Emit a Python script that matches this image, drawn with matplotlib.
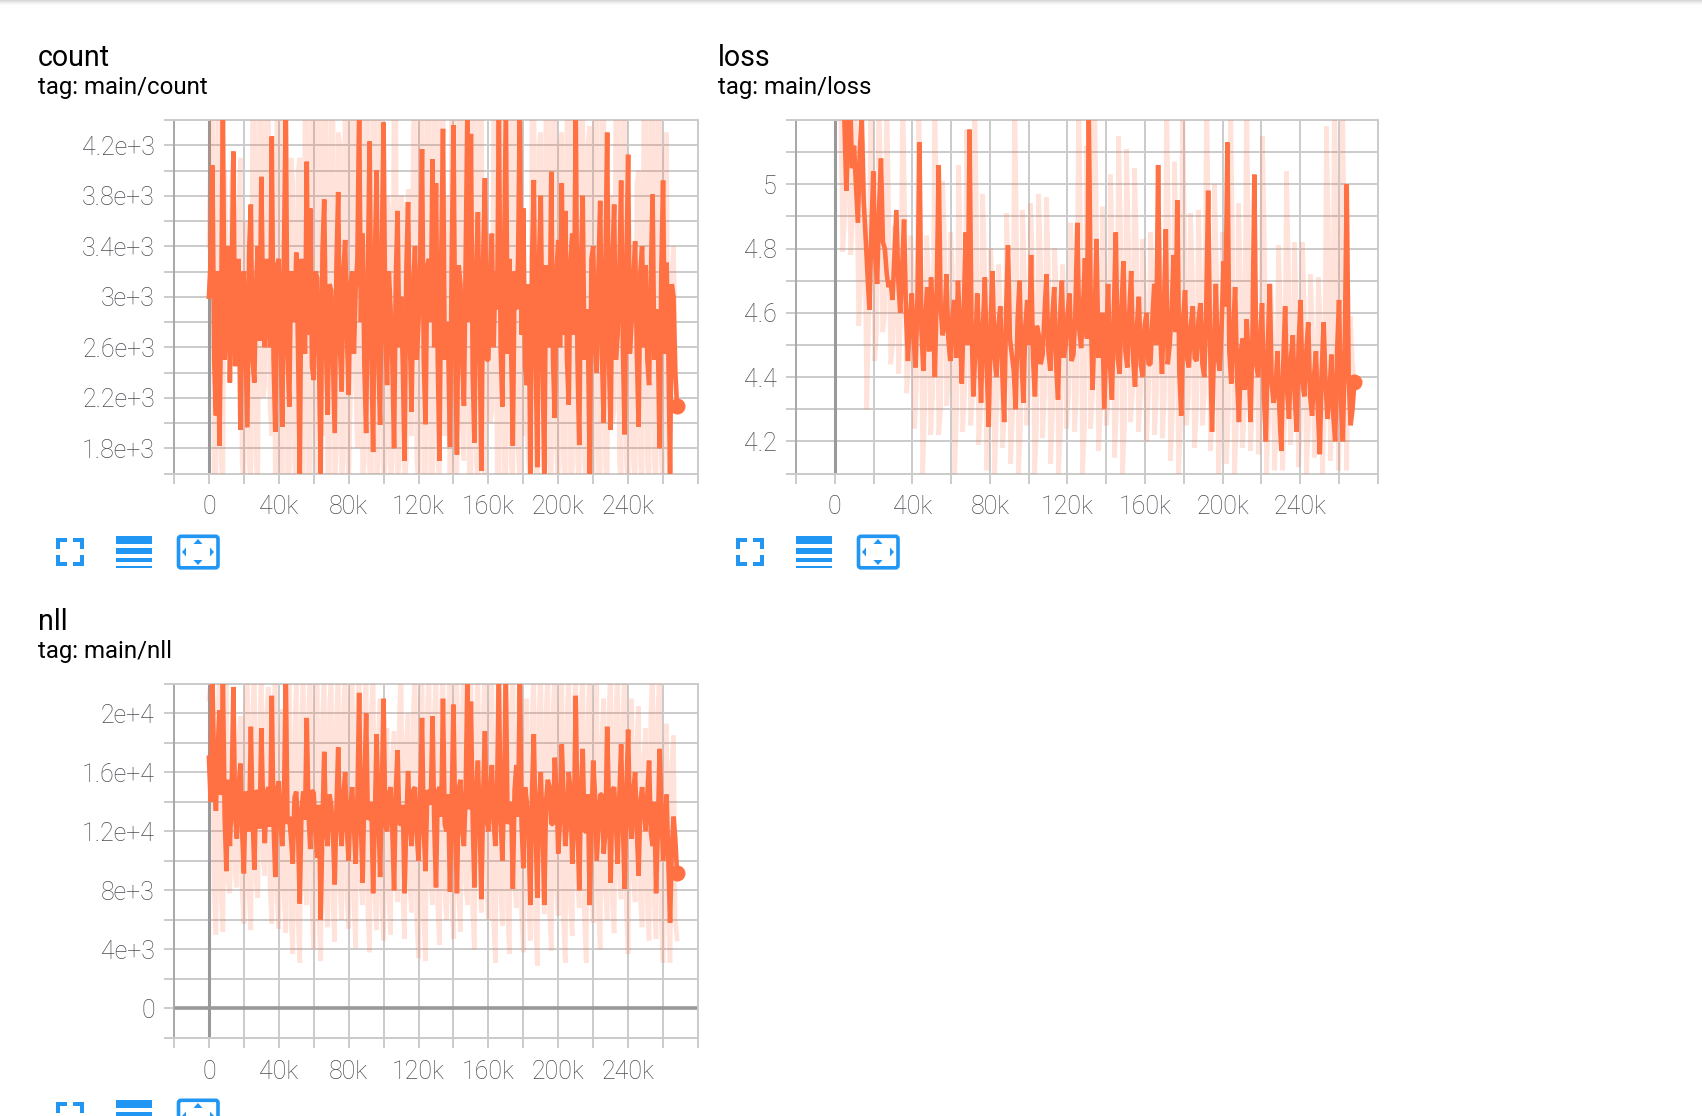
import matplotlib
matplotlib.use("Agg")
import matplotlib.pyplot as plt
import numpy as np
from matplotlib.patches import Rectangle, Polygon, FancyBboxPatch

W, H = 1702, 1116
ORANGE = "#ff7043"
BLUE = "#2196f3"
GRID = "#cbcbcb"
LABEL = "#4a4a52"

last_step = 268000

# smoothed and raw values
# *_line holds the spikes every second step, *_mid the steps in between
count_line = [3000, 4040, 2060, 1820, 4500, 3150, 2320, 4150, 3000, 1945,
              3200, 1965, 3730, 2320, 3400, 3950, 2600, 3100, 4270, 1930,
              3300, 1970, 4500, 2130, 2900, 3350, 1600, 2900, 4070, 3700,
              2340, 3150, 1600, 3770, 2065, 3050, 1920, 3830, 2250, 3450,
              2225, 3200, 3050, 4500, 3500, 1920, 4230, 1770, 4000, 1985,
              4380, 2300, 2900, 1800, 3680, 3000, 1700, 3750, 2090, 3400,
              2800, 4170, 1990, 3300, 4090, 3900, 1700, 4330, 2800, 1810,
              4360, 1750, 3100, 2135, 4500, 4290, 1845, 3670, 1620, 3940,
              2500, 3500, 3200, 4500, 2130, 4500, 3300, 1820, 2900, 4500,
              3700, 2300, 1600, 3925, 1650, 3800, 1600, 3000, 3990, 2040,
              3450, 3900, 3680, 2145, 3500, 4500, 1825, 3800, 2900, 1600,
              3400, 2400, 3760, 2000, 4300, 1945, 3730, 2700, 3920, 1910,
              4125, 2800, 3440, 1970, 3400, 3250, 2300, 3810, 2900, 1800,
              3920, 3270, 1600, 3000, 2135]
count_mid = [3300, 2500, 3200, 2900, 2500, 3400, 3100, 2450, 3300, 2900,
             2600, 3350, 2500, 3100, 2650, 2900, 3300, 2600, 2500, 3250,
             2700, 3400, 2550, 3200, 2800, 2600, 3300, 2550, 2700, 2450,
             3200, 2500, 3350, 2600, 3100, 2500, 3250, 2600, 3200, 2700,
             3100, 2550, 3300, 2800, 2450, 3200, 2600, 3300, 2500, 3400,
             2700, 3200, 2500, 3150, 2600, 2450, 3200, 2700, 3100, 2500,
             3300, 2500, 3250, 2800, 2600, 2500, 3300, 2500, 2600, 3300,
             2600, 3250, 2500, 3350, 2800, 2400, 3200, 2600, 3300, 2500,
             3200, 2600, 2900, 2600, 3300, 2550, 2600, 3200, 3300, 2700,
             2450, 3100, 3300, 2600, 3300, 2500, 3250, 2600, 2500, 3200,
             2600, 2700, 2500, 3300, 2700, 2500, 3250, 2500, 2700, 3300,
             2600, 3200, 2550, 3250, 2500, 3300, 2500, 3200, 2600, 3250,
             2550, 3150, 2550, 3200, 2600, 2500, 3150, 2500, 2700, 3200,
             2550, 2600, 3100, 2400]

loss_line = [6.0, 5.7, 5.3, 4.98, 5.25, 5.12, 4.88, 5.22, 4.84, 4.61,
             5.04, 4.69, 5.08, 4.80, 4.68, 4.64, 4.92, 4.60, 4.89, 4.45,
             4.66, 4.43, 5.13, 4.42, 4.68, 4.71, 4.40, 5.06, 4.53, 4.72,
             4.45, 4.64, 4.70, 4.38, 4.85, 5.17, 4.34, 4.66, 4.32, 4.71,
             4.245, 4.73, 4.40, 4.62, 4.26, 4.81, 4.47, 4.30, 4.70, 4.32,
             4.64, 4.78, 4.34, 4.53, 4.47, 4.72, 4.42, 4.68, 4.33, 4.70,
             4.50, 4.66, 4.47, 4.88, 4.49, 4.77, 5.25, 4.36, 4.83, 4.50,
             4.30, 4.69, 4.33, 4.85, 4.41, 4.76, 4.43, 4.73, 4.37, 4.65,
             4.40, 4.60, 4.44, 4.69, 5.06, 4.41, 4.86, 4.50, 4.78, 4.95,
             4.28, 4.67, 4.43, 4.62, 4.45, 4.63, 4.40, 4.98, 4.23, 4.69,
             4.42, 4.76, 5.13, 4.38, 4.68, 4.26, 4.52, 4.58, 4.26, 5.03,
             4.40, 4.63, 4.20, 4.69, 4.32, 4.48, 4.17, 4.62, 4.27, 4.53,
             4.23, 4.64, 4.34, 4.57, 4.28, 4.48, 4.16, 4.57, 4.27, 4.47,
             4.20, 4.64, 4.20, 5.0, 4.25, 4.385]
loss_mid = [5.9, 5.5, 5.2, 5.15, 5.05, 5.0, 5.1, 4.95, 4.72, 4.85,
            4.78, 4.92, 4.82, 4.72, 4.70, 4.78, 4.70, 4.74, 4.60, 4.58,
            4.52, 4.66, 4.55, 4.58, 4.48, 4.60, 4.68, 4.62, 4.56, 4.52,
            4.58, 4.46, 4.56, 4.60, 4.50, 4.58, 4.48, 4.52, 4.56, 4.42,
            4.58, 4.46, 4.56, 4.42, 4.60, 4.52, 4.42, 4.58, 4.46, 4.56,
            4.50, 4.46, 4.56, 4.44, 4.60, 4.48, 4.58, 4.44, 4.58, 4.46,
            4.60, 4.45, 4.60, 4.55, 4.62, 4.52, 4.60, 4.58, 4.46, 4.60,
            4.50, 4.44, 4.60, 4.46, 4.62, 4.48, 4.60, 4.46, 4.56, 4.44,
            4.56, 4.44, 4.58, 4.50, 4.56, 4.60, 4.44, 4.60, 4.54, 4.42,
            4.58, 4.46, 4.56, 4.46, 4.58, 4.44, 4.62, 4.50, 4.48, 4.46,
            4.56, 4.62, 4.48, 4.54, 4.40, 4.48, 4.36, 4.46, 4.52, 4.44,
            4.52, 4.34, 4.50, 4.38, 4.36, 4.30, 4.44, 4.36, 4.46, 4.34,
            4.50, 4.38, 4.48, 4.34, 4.40, 4.30, 4.42, 4.38, 4.34, 4.28,
            4.48, 4.32, 4.50, 4.40, 4.30]

nll_line = [17000, 22500, 13400, 20200, 22500, 9300, 11000, 21800, 11500, 16600,
            9150, 13500, 19100, 9400, 14500, 19000, 11200, 15000, 21200, 8900,
            15400, 11000, 22500, 13000, 9800, 14700, 7100, 14700, 19700, 10800,
            14600, 10200, 6000, 17400, 11000, 13800, 8400, 17700, 11000, 16000,
            10000, 15000, 9800, 21400, 8500, 20000, 13000, 7800, 18600, 8900,
            21000, 12000, 15000, 8000, 17500, 12500, 7800, 16100, 11000, 15000,
            10000, 19700, 9300, 14500, 19800, 8200, 15000, 21000, 12000, 7900,
            20600, 7800, 15500, 11000, 22500, 20800, 8200, 16800, 7400, 18800,
            12000, 16500, 11000, 22500, 10000, 22500, 13000, 8100, 16500, 22500,
            9500, 14000, 7000, 18600, 7500, 16000, 7000, 15500, 12500, 17000,
            10500, 17900, 11000, 16000, 9800, 21200, 8000, 17600, 12000, 7000,
            16800, 10000, 14500, 10500, 19100, 8500, 15000, 9800, 17900, 8100,
            18900, 11500, 16000, 9000, 15000, 12000, 16800, 11000, 7800, 17600,
            10000, 14500, 5800, 13000, 9200]
nll_mid = [14000, 16000, 17500, 14500, 13000, 15500, 14500, 13000, 15000, 12000,
           14700, 12000, 13000, 14800, 12200, 13800, 14600, 12300, 12500, 14800,
           12500, 14500, 12500, 11500, 14300, 12000, 13500, 12800, 13200, 14800,
           12000, 13800, 12500, 12200, 14500, 12000, 13500, 12600, 14500, 12000,
           13800, 12400, 14000, 12500, 15000, 12800, 14000, 13000, 13500, 14800,
           12400, 14500, 12000, 14800, 12500, 13800, 12500, 12800, 14800, 11800,
           14500, 12000, 14800, 13800, 12500, 14700, 13000, 12500, 14500, 14000,
           12500, 14800, 12200, 14800, 13500, 12800, 14800, 12500, 14500, 12800,
           15000, 12600, 15000, 12800, 15000, 12500, 14000, 14800, 13000, 12500,
           15000, 11800, 14800, 12200, 14000, 12200, 14000, 15000, 12500, 14500,
           12800, 14500, 12500, 14800, 12500, 12800, 14500, 12000, 14500, 12500,
           14500, 12200, 14500, 12000, 13800, 14800, 12500, 14500, 12500, 14500,
           12800, 14800, 12000, 14000, 13500, 14500, 12000, 14000, 12000, 13800,
           12000, 10200, 10800, 11500]

count_raw = [3400, 4700, 1500, 4800, 1500, 3300, 2600, 4100, 2450, 4100,
             1500, 3200, 1500, 4600, 1500, 4700, 2300, 4650, 1900, 1500,
             4700, 1500, 4800, 1500, 3900, 1500, 4100, 1500, 4700, 1500,
             4800, 1500, 2100, 4800, 1500, 4700, 1500, 4300, 1500, 4800,
             1500, 4400, 2300, 4800, 1500, 4800, 1500, 4700, 1500, 4800,
             1500, 3800, 1500, 4700, 1500, 3800, 1500, 3850, 1900, 4700,
             1500, 4800, 1500, 4800, 1500, 4800, 1500, 4800, 2050, 1500,
             4800, 1500, 4800, 1700, 4800, 1500, 4800, 1500, 4800, 1500,
             3500, 2100, 4800, 1500, 4800, 1500, 4800, 1500, 4800, 1500,
             3300, 2000, 1500, 4800, 1500, 4300, 1500, 4800, 1500, 4800,
             1500, 4300, 1500, 4800, 1500, 4800, 1500, 4800, 1500, 4350,
             1500, 4800, 1500, 4700, 1500, 3800, 2100, 4800, 1500, 4800,
             1500, 3400, 1500, 4000, 1500, 4800, 1500, 4800, 1500, 4800,
             1500, 4300, 1500, 3400, 2135]
count_raw_mid = [4200, 1600, 4500, 1700, 4000, 2700, 3900, 2500, 3700, 1700,
                 3600, 1700, 4500, 1700, 4600, 2200, 4500, 2100, 3800, 4600,
                 1700, 4700, 1600, 4100, 1700, 4000, 1700, 4600, 1600, 4700,
                 2000, 4400, 1900, 4600, 1600, 4500, 1800, 4200, 1700, 4500,
                 2200, 4600, 1800, 4700, 1700, 4500, 1600, 4600, 1700, 3700,
                 1700, 3700, 1700, 4400, 1700, 3700, 1700, 3800, 4300, 1700,
                 4700, 1600, 4600, 1600, 4700, 1700, 4600, 1900, 3800, 4700,
                 1700, 4700, 2000, 4600, 1600, 4700, 1700, 4600, 1700, 3400,
                 2000, 4500, 1600, 4700, 1600, 4700, 1700, 4600, 1800, 3200,
                 1900, 1700, 4700, 1700, 4200, 1800, 4600, 1700, 4700, 1800,
                 4200, 1700, 4600, 1600, 4700, 1700, 4600, 1700, 4200, 1700,
                 4500, 1600, 4500, 1700, 3600, 2000, 4600, 1700, 4600, 1700,
                 3300, 1700, 3900, 1700, 4700, 1700, 4700, 1700, 4600, 1700,
                 4100, 1800, 3200, 2500]

loss_raw = [6.0, 5.8, 4.79, 5.3, 4.78, 5.3, 4.56, 5.13, 4.30, 5.3,
            4.45, 5.3, 4.54, 5.3, 4.44, 4.87, 4.41, 5.3, 4.35, 4.84,
            4.24, 5.3, 4.10, 4.84, 4.22, 5.3, 4.22, 5.01, 4.31, 4.85,
            4.10, 5.06, 4.23, 5.17, 4.25, 5.3, 4.19, 4.97, 4.11, 4.80,
            4.10, 4.75, 4.18, 4.91, 4.13, 5.3, 4.10, 4.92, 4.25, 4.94,
            4.10, 4.97, 4.21, 4.96, 4.13, 4.80, 4.10, 4.75, 4.24, 4.88,
            4.23, 5.3, 4.10, 5.12, 4.24, 5.3, 4.17, 4.93, 4.25, 5.03,
            4.15, 5.15, 4.10, 5.11, 4.26, 5.05, 4.23, 4.83, 4.20, 4.85,
            4.22, 4.90, 4.21, 5.3, 4.14, 5.07, 4.10, 5.3, 4.25, 4.91,
            4.18, 4.92, 4.25, 5.3, 4.17, 5.0, 4.10, 4.85, 4.13, 5.3,
            4.10, 4.94, 4.18, 5.3, 4.17, 4.73, 4.16, 5.15, 4.10, 4.69,
            4.11, 4.81, 4.11, 5.04, 4.19, 4.82, 4.12, 4.82, 4.10, 4.72,
            4.15, 4.71, 4.10, 5.18, 4.14, 5.3, 4.11, 5.3, 4.11, 4.59,
            4.385]
loss_raw_mid = [5.9, 5.2, 4.9, 5.1, 4.9, 5.0, 4.7, 4.9, 4.6, 4.95,
                4.55, 5.0, 4.6, 4.9, 4.5, 4.75, 4.6, 4.9, 4.45, 4.7,
                4.4, 4.8, 4.3, 4.7, 4.35, 4.85, 4.3, 4.8, 4.4, 4.7,
                4.3, 4.7, 4.35, 4.75, 4.35, 4.85, 4.3, 4.75, 4.3, 4.65,
                4.3, 4.6, 4.3, 4.7, 4.3, 4.8, 4.25, 4.7, 4.35, 4.75,
                4.25, 4.75, 4.35, 4.7, 4.3, 4.65, 4.25, 4.6, 4.35, 4.7,
                4.35, 4.85, 4.25, 4.85, 4.35, 4.85, 4.3, 4.7, 4.35, 4.75,
                4.3, 4.85, 4.25, 4.8, 4.35, 4.8, 4.35, 4.65, 4.35, 4.7,
                4.35, 4.7, 4.35, 4.85, 4.3, 4.8, 4.25, 4.85, 4.35, 4.7,
                4.3, 4.7, 4.35, 4.85, 4.3, 4.75, 4.25, 4.65, 4.3, 4.8,
                4.25, 4.7, 4.3, 4.8, 4.3, 4.55, 4.3, 4.8, 4.25, 4.55,
                4.25, 4.6, 4.25, 4.75, 4.3, 4.6, 4.25, 4.6, 4.25, 4.55,
                4.3, 4.55, 4.3, 4.85, 4.3, 4.85, 4.3, 4.8, 4.4, 4.45]

nll_raw = [21000, 23500, 5000, 23000, 5200, 23000, 7800, 20000, 8200, 19800,
           5750, 23000, 5300, 23000, 7500, 23000, 9000, 21800, 5750, 23000,
           5400, 20300, 5100, 23000, 3700, 22000, 3100, 23000, 7000, 23000,
           4000, 23000, 3200, 23000, 5500, 23000, 4500, 23000, 6000, 23000,
           5400, 23000, 4100, 23000, 7000, 23000, 3800, 23000, 5300, 21000,
           4600, 19000, 5000, 18800, 7200, 23000, 4700, 20000, 6500, 23000,
           3400, 23000, 3200, 23000, 7000, 23000, 4300, 23000, 6000, 23000,
           4700, 23000, 5200, 23000, 7000, 23000, 4000, 23000, 6500, 23000,
           6000, 23000, 3100, 23000, 5600, 23000, 3700, 23000, 6800, 23000,
           3800, 21000, 4600, 23000, 2900, 23000, 6400, 23000, 3900, 23000,
           6300, 23000, 3100, 23000, 4900, 23000, 6800, 23000, 3100, 23000,
           5800, 23000, 4000, 21000, 6000, 23000, 5100, 23000, 7400, 23000,
           3700, 21000, 7200, 20500, 5500, 19000, 4600, 23000, 4700, 23000,
           3100, 19300, 3100, 18500, 4700]
nll_raw_mid = [22000, 8000, 19000, 7500, 18500, 8500, 17500, 9000, 18000, 8000,
               19500, 7500, 20000, 8500, 19000, 10000, 20000, 8000, 19000, 7500,
               18000, 7500, 19500, 6000, 18500, 6000, 19500, 8500, 20000, 7000,
               19500, 6000, 19500, 7500, 20000, 7000, 19500, 8000, 20000, 7500,
               20000, 7000, 20000, 8500, 20000, 6500, 20000, 7500, 18500, 7000,
               17000, 7500, 17000, 9000, 20000, 7500, 18000, 8500, 20000, 6000,
               20000, 6000, 20000, 8500, 19500, 7000, 20000, 8000, 20000, 7500,
               19500, 7500, 20000, 8500, 20000, 6500, 19500, 8500, 20000, 8000,
               19500, 6000, 19500, 8000, 20000, 6500, 20000, 8500, 19500, 6500,
               18500, 7000, 19500, 6000, 20000, 8000, 20000, 6500, 20000, 8000,
               20000, 6000, 19500, 7000, 20000, 8500, 20000, 6000, 19500, 8000,
               19500, 6500, 18500, 8000, 20000, 7000, 20000, 8800, 19500, 6500,
               18500, 8800, 18000, 7500, 17000, 7000, 20000, 7000, 20000, 6000,
               17000, 6000, 16500, 6000]

count_yticks = [1800, 2200, 2600, 3000, 3400, 3800, 4200]
count_ylabels = ["1.8e+3", "2.2e+3", "2.6e+3", "3e+3", "3.4e+3", "3.8e+3", "4.2e+3"]
count_yminor = [1600, 2000, 2400, 2800, 3200, 3600, 4000, 4400]

loss_yticks = [4.2, 4.4, 4.6, 4.8, 5.0]
loss_ylabels = ["4.2", "4.4", "4.6", "4.8", "5"]
loss_yminor = [4.1, 4.3, 4.5, 4.7, 4.9, 5.1, 5.2]

nll_yticks = [0, 4000, 8000, 12000, 16000, 20000]
nll_ylabels = ["0", "4e+3", "8e+3", "1.2e+4", "1.6e+4", "2e+4"]
nll_yminor = [-2000, 2000, 6000, 10000, 14000, 18000, 22000]

xticks = [0, 40000, 80000, 120000, 160000, 200000, 240000]
xlabels = ["0", "40k", "80k", "120k", "160k", "200k", "240k"]
xminor = [-20000, 20000, 60000, 100000, 140000, 180000, 220000, 260000, 280000]

plt.rcParams["font.family"] = ["Roboto", "DejaVu Sans"]

fig = plt.figure(figsize=(W / 100, H / 100), dpi=100, facecolor="white")


def merge(spikes, mids):
    # put the in-between reads back between the spikes
    out = []
    for a, b in zip(spikes, mids):
        out += [a, b]
    out += spikes[len(mids):]
    return out


def panel(left, right, top, bottom, line, raw, ylim, yticks, ylabels, yminor, zero_y=False):
    ax = fig.add_axes([left / W, 1 - bottom / H, (right - left) / W, (bottom - top) / H])
    steps = np.linspace(0, last_step, len(line))
    raw_steps = np.linspace(0, last_step, len(raw))
    ax.plot(raw_steps, raw, color=ORANGE, alpha=0.2, lw=3.3, solid_joinstyle="bevel", zorder=3)
    ax.plot(steps, line, color=ORANGE, lw=3.3, solid_joinstyle="bevel", zorder=4)
    ax.plot([steps[-1]], [line[-1]], "o", color=ORANGE, ms=11.5, mew=0, zorder=5, clip_on=False)
    ax.set_xlim(-20000, 280000)
    ax.set_ylim(*ylim)
    ax.set_xticks(xticks, xlabels)
    ax.set_xticks(xminor, minor=True)
    ax.set_yticks(yticks, ylabels)
    ax.set_yticks(yminor, minor=True)
    ax.tick_params(axis="both", which="both", length=7.2, width=1.4, color=GRID,
                   labelsize=18, labelcolor=LABEL)
    ax.tick_params(axis="x", which="major", pad=8.5)
    ax.tick_params(axis="y", which="major", pad=6.5)
    for tick in ax.get_xticklabels() + ax.get_yticklabels():
        tick.set_fontweight("light")
    ax.grid(True, which="both", color=GRID, lw=1.4, zorder=1)
    ax.set_axisbelow(True)
    for name in ax.spines:
        ax.spines[name].set_color(GRID)
        ax.spines[name].set_linewidth(1.4)
    ax.spines["left"].set_color("#a8a8a8")
    ax.axvline(0, color="#999999", lw=2.2, zorder=2)
    if zero_y:
        ax.axhline(0, color="#999999", lw=2.6, zorder=2)
    return ax


panel(174, 698, 120, 473.5, merge(count_line, count_mid), merge(count_raw, count_raw_mid),
      (1600, 4400), count_yticks, count_ylabels, count_yminor)
panel(796, 1377.7, 120, 473.5, merge(loss_line, loss_mid), merge(loss_raw, loss_raw_mid),
      (4.1, 5.2), loss_yticks, loss_ylabels, loss_yminor)
panel(174, 698, 684, 1037.7, merge(nll_line, nll_mid), merge(nll_raw, nll_raw_mid),
      (-2000, 22000), nll_yticks, nll_ylabels, nll_yminor, zero_y=True)

# page layer in pixel coordinates: titles, icons, top shadow
page = fig.add_axes([0, 0, 1, 1], zorder=10)
page.set_xlim(0, W)
page.set_ylim(H, 0)
page.axis("off")
page.patch.set_alpha(0)

shadow = ["#d8d8d8", "#e2e2e2", "#ececec", "#f4f4f4", "#fafafa"]
for i, c in enumerate(shadow):
    page.add_patch(Rectangle((0, i), W, 1, color=c, lw=0))


def titles(x, y, name, tag):
    page.text(x, y + 66, name, fontsize=20.6, color="black", va="baseline")
    page.text(x, y + 94, tag, fontsize=17.3, color="black", va="baseline")


def icons(dx, dy):
    # fullscreen corners
    x0, x1, y0, y1 = 56 + dx, 84 + dx, 538 + dy, 566 + dy
    t, arm = 3.6, 11
    for cx, sx in ((x0, 1), (x1, -1)):
        for cy, sy in ((y0, 1), (y1, -1)):
            page.add_patch(Rectangle((cx, cy), sx * arm, sy * t, color=BLUE, lw=0))
            page.add_patch(Rectangle((cx, cy), sx * t, sy * arm, color=BLUE, lw=0))
    # list bars
    for ya, yb in ((536, 544), (548.3, 554), (558.3, 562.3), (566, 568)):
        page.add_patch(Rectangle((116 + dx, ya + dy), 36, yb - ya, color=BLUE, lw=0))
    # fit-domain box
    page.add_patch(FancyBboxPatch((178.5 + dx, 536.3 + dy), 39.5, 31.5,
                                  boxstyle="round,pad=0,rounding_size=2.5",
                                  fc="white", ec=BLUE, lw=2.6))
    cx, cy = 198 + dx, 552 + dy
    page.add_patch(Polygon([(cx, cy - 13), (cx - 4.5, cy - 8), (cx + 4.5, cy - 8)], color=BLUE, lw=0))
    page.add_patch(Polygon([(cx, cy + 13), (cx - 4.5, cy + 8), (cx + 4.5, cy + 8)], color=BLUE, lw=0))
    page.add_patch(Polygon([(cx - 16, cy), (cx - 12, cy - 4.5), (cx - 12, cy + 4.5)], color=BLUE, lw=0))
    page.add_patch(Polygon([(cx + 16, cy), (cx + 12, cy - 4.5), (cx + 12, cy + 4.5)], color=BLUE, lw=0))


titles(38, 0, "count", "tag: main/count")
titles(718, 0, "loss", "tag: main/loss")
titles(38, 564, "nll", "tag: main/nll")
icons(0, 0)
icons(680, 0)
icons(0, 564)

fig.savefig("out.png", dpi=100)
